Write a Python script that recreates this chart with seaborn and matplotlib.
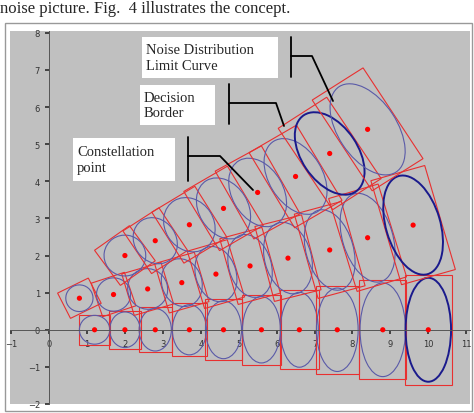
import numpy as np
import matplotlib
matplotlib.use("Agg")
import matplotlib.pyplot as plt
import seaborn as sns
from matplotlib.patches import Ellipse, Polygon, Rectangle

sns.set_theme(style="white")
plt.rcParams['font.family'] = ['DejaVu Sans']

row0_x = [1.2, 2.0, 2.8, 3.7, 4.6, 5.6, 6.6, 7.6, 8.8, 10.0]
row0_y = [0, 0, 0, 0, 0, 0, 0, 0, 0, 0]
row1_x = [0.8, 1.7, 2.6, 3.5, 4.4, 5.3, 6.3, 7.4, 8.4, 9.6]
row1_y = [0.85, 0.95, 1.1, 1.27, 1.5, 1.72, 1.93, 2.15, 2.48, 2.82]
row2_x = [2.0, 2.8, 3.7, 4.6, 5.5, 6.5, 7.4, 8.4]
row2_y = [2.0, 2.4, 2.83, 3.27, 3.7, 4.13, 4.75, 5.4]
dark = {(0, 9), (1, 9), (2, 6)}

fig = plt.figure(figsize=(4.74, 4.14), dpi=100)
ax = fig.add_axes([10/474, 9/414, 460/474, 373/414])
ax.set_facecolor("#c0c0c0")
ax.set_xlim(-1.03, 11.1)
ax.set_ylim(-2.0, 8.05)

for ri, (xs, ys) in enumerate([(row0_x, row0_y), (row1_x, row1_y), (row2_x, row2_y)]):
    xs = np.array(xs); ys = np.array(ys)
    r = np.hypot(xs, ys)
    n = len(xs)
    for i in range(n):
        x, y = xs[i], ys[i]
        a, b = max(i-1, 0), min(i+1, n-1)
        dx, dy = xs[b]-xs[a], ys[b]-ys[a]
        if ri == 0:
            th = 0.0
        else:
            th = 0.5*(np.degrees(np.arctan2(dy, dx)) + np.degrees(np.arctan2(y, x)))
        sp = np.hypot(dx, dy) / (b-a)
        h = 0.5 + 0.23*r[i] if ri == 0 else 0.45 + 0.23*r[i]
        w = 1.0*sp if ri == 0 else (1.15*sp if ri == 1 else 1.3*sp)
        if ri > 0:
            w = min(w, 0.85*h if r[i] > 3 else h)
        cw, ch = max(sp, w*1.03), h*1.06
        t = np.radians(th)
        u = np.array([np.cos(t), np.sin(t)]); v = np.array([-np.sin(t), np.cos(t)])
        c = np.array([x, y])
        pts = [c+u*cw/2+v*ch/2, c-u*cw/2+v*ch/2, c-u*cw/2-v*ch/2, c+u*cw/2-v*ch/2]
        ax.add_patch(Polygon(pts, closed=True, fill=False, ec="#e83030", lw=0.8))
        d = (ri, i) in dark
        ax.add_patch(Ellipse((x, y), w, h, angle=th, fill=False,
                             ec="#1a1a8c" if d else "#5a5aa8", lw=1.4 if d else 0.8))
    sns.scatterplot(x=xs, y=ys, ax=ax, color="red", s=14, edgecolor="none", zorder=5)

ax.spines['left'].set_position(('data', 0))
ax.spines['bottom'].set_position(('data', 0))
for s in ['top', 'right']:
    ax.spines[s].set_visible(False)
for s in ['left', 'bottom']:
    ax.spines[s].set_color("#555555"); ax.spines[s].set_linewidth(0.7)
ax.set_xticks(range(-1, 12))
ax.set_yticks(range(-2, 9))
ax.tick_params(labelsize=6, colors="#333333", length=3, direction='out', left=True, bottom=True)

fig.patches.append(Rectangle((5/474, 2/414), 467/474, 388/414, transform=fig.transFigure,
                             fill=False, ec="#999999", lw=1))

def P(px, py):
    return (px/474, 1-py/414)

serif = ['Liberation Serif', 'DejaVu Serif']
fig.text(0.0, 1-9/414, "noise picture. Fig.  4 illustrates the concept.", family=serif,
         fontsize=12, va='center', ha='left')
for (bx, by, bw, bh, txt) in [(142, 38, 136, 41, "Noise Distribution\nLimit Curve"),
                               (140, 86, 75, 40, "Decision\nBorder"),
                               (73, 139, 102, 43, "Constellation\npoint")]:
    fig.patches.append(Rectangle(P(bx, by+bh), bw/474, bh/414, transform=fig.transFigure,
                                 fc="white", ec="none"))
    fig.text(*P(bx+4, by+bh/2), txt, family=serif, fontsize=10.5, va='center', ha='left',
             linespacing=1.25)
for (vx, y1, y2, hx, hy, ex, ey) in [(291, 38, 78, 312, 57, 333, 102),
                                      (229, 85, 125, 276, 104, 284, 127),
                                      (188, 138, 182, 220, 157, 253, 191)]:
    fig.lines.append(plt.Line2D([P(vx, y1)[0], P(vx, y2)[0]], [P(vx, y1)[1], P(vx, y2)[1]],
                                transform=fig.transFigure, color="black", lw=1.3))
    xs_ = [P(vx, hy)[0], P(hx, hy)[0], P(ex, ey)[0]]
    ys_ = [P(vx, hy)[1], P(hx, hy)[1], P(ex, ey)[1]]
    fig.lines.append(plt.Line2D(xs_, ys_, transform=fig.transFigure, color="black", lw=1.3))

fig.savefig("out.png", dpi=100)
